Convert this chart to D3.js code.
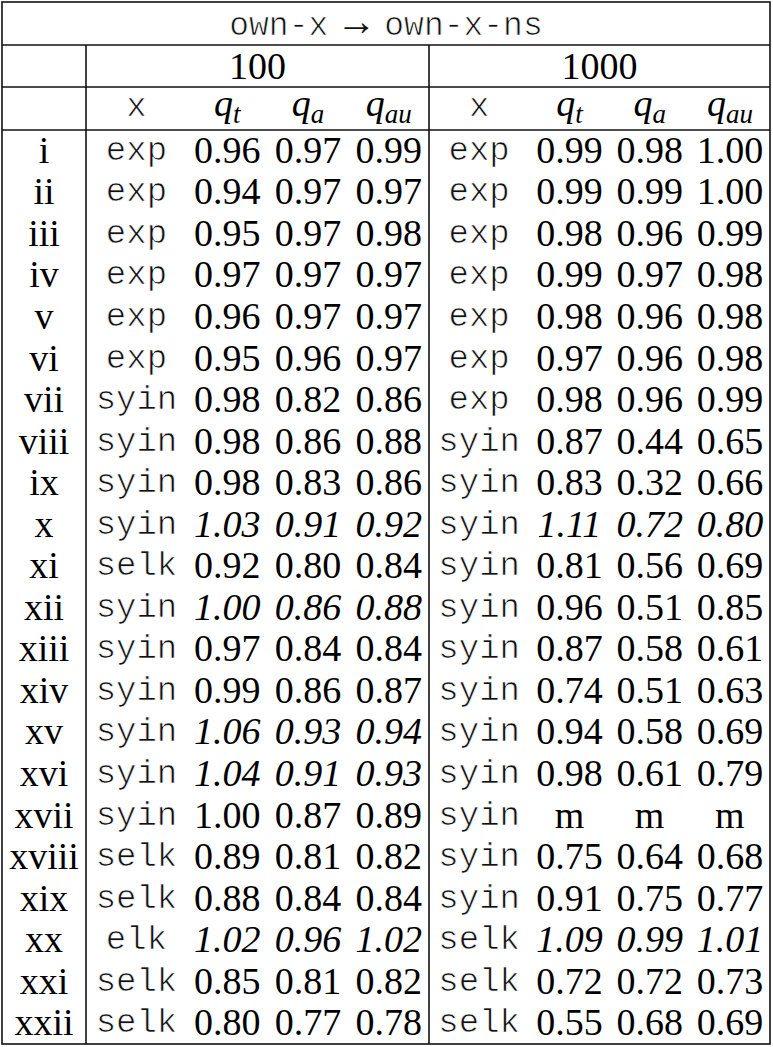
<!DOCTYPE html>
<html>
<head>
<meta charset="utf-8">
<script src="https://cdn.jsdelivr.net/npm/d3@7"></script>
<style>
  body { margin: 0; background: #fff; }
</style>
</head>
<body>
<div id="tabela"></div>
<script>
const rowLabels = ["i","ii","iii","iv","v","vi","vii","viii","ix","x","xi","xii","xiii","xiv","xv","xvi","xvii","xviii","xix","xx","xxi","xxii"];
const groups = ["100", "1000"];
const subCols = ["x", "qt", "qa", "qau"];

const x100 = ["exp","exp","exp","exp","exp","exp","syin","syin","syin","syin","selk","syin","syin","syin","syin","syin","syin","selk","selk","elk","selk","selk"];
const qt100 = [0.96,0.94,0.95,0.97,0.96,0.95,0.98,0.98,0.98,1.03,0.92,1.00,0.97,0.99,1.06,1.04,1.00,0.89,0.88,1.02,0.85,0.80];
const qa100 = [0.97,0.97,0.97,0.97,0.97,0.96,0.82,0.86,0.83,0.91,0.80,0.86,0.84,0.86,0.93,0.91,0.87,0.81,0.84,0.96,0.81,0.77];
const qau100 = [0.99,0.97,0.98,0.97,0.97,0.97,0.86,0.88,0.86,0.92,0.84,0.88,0.84,0.87,0.94,0.93,0.89,0.82,0.84,1.02,0.82,0.78];
const italic100 = ["x","xii","xv","xvi","xx"];

const x1000 = ["exp","exp","exp","exp","exp","exp","exp","syin","syin","syin","syin","syin","syin","syin","syin","syin","syin","syin","syin","selk","selk","selk"];
const qt1000 = [0.99,0.99,0.98,0.99,0.98,0.97,0.98,0.87,0.83,1.11,0.81,0.96,0.87,0.74,0.94,0.98,null,0.75,0.91,1.09,0.72,0.55];
const qa1000 = [0.98,0.99,0.96,0.97,0.96,0.96,0.96,0.44,0.32,0.72,0.56,0.51,0.58,0.51,0.58,0.61,null,0.64,0.75,0.99,0.72,0.68];
const qau1000 = [1.00,1.00,0.99,0.98,0.98,0.98,0.99,0.65,0.66,0.80,0.69,0.85,0.61,0.63,0.69,0.79,null,0.68,0.77,1.01,0.73,0.69];
const italic1000 = ["x","xx"];

const W = 773, H = 1047;
const serif = "'Liberation Serif', 'Times New Roman', serif";
const mono = "'Liberation Mono', 'Courier New', monospace";
const fsNum = 38, fsMono = 34;

const tLeft = 2, tRight = 770, tTop = 2, tBottom = 1044;
const labelColRight = 86, midSplit = 429;
const titleBottom = 45, groupBottom = 87, headBottom = 130;

const svg = d3.select("#tabela").append("svg")
    .attr("width", W)
    .attr("height", H);

// linhas de dados
const y = d3.scaleBand()
    .domain(rowLabels)
    .range([headBottom, tBottom]);

// blocos 100 / 1000
const xGroup = d3.scaleOrdinal()
    .domain(groups)
    .range([[labelColRight, midSplit], [midSplit, tRight]]);

// largura relativa das sub-colunas dentro de cada bloco
const colWeights = [1.25, 1, 1, 1];
function colCenter(g, c) {
    const [a, b] = xGroup(g);
    const s = d3.scaleLinear().domain([0, d3.sum(colWeights)]).range([a, b]);
    const i = subCols.indexOf(c);
    const start = d3.sum(colWeights.slice(0, i));
    return s(start + colWeights[i] / 2);
}

const blocks = [
    { g: "100", x: x100, qt: qt100, qa: qa100, qau: qau100, it: italic100 },
    { g: "1000", x: x1000, qt: qt1000, qa: qa1000, qau: qau1000, it: italic1000 }
];

// texto monoespaçado mais leve (aproxima o Courier)
function thinMono(sel) {
    sel.style("font-family", mono)
        .style("fill", "#111")
        .style("stroke", "#fff")
        .style("stroke-width", 0.7)
        .style("paint-order", "fill");
}

// linhas da grelha
const lines = svg.append("g")
    .style("stroke", "#111")
    .style("stroke-width", 1.6)
    .style("fill", "none");

lines.append("rect")
    .attr("x", tLeft).attr("y", tTop)
    .attr("width", tRight - tLeft).attr("height", tBottom - tTop);

[titleBottom, groupBottom, headBottom].forEach(yy => {
    lines.append("line").attr("x1", tLeft).attr("x2", tRight).attr("y1", yy).attr("y2", yy);
});
lines.append("line").attr("x1", labelColRight).attr("x2", labelColRight).attr("y1", titleBottom).attr("y2", tBottom);
lines.append("line").attr("x1", midSplit).attr("x2", midSplit).attr("y1", titleBottom).attr("y2", tBottom);

// titulo
const title = svg.append("text")
    .attr("x", (tLeft + tRight) / 2)
    .attr("y", (tTop + titleBottom) / 2 + 11)
    .attr("text-anchor", "middle")
    .style("font-size", "33px")
    .call(thinMono);
title.append("tspan").text("own-x");
title.append("tspan").style("font-family", serif).style("font-size", "40px")
    .style("stroke", "none").text("\u2009\u2192\u2009");
title.append("tspan").text("own-x-ns");

// cabecalho dos blocos
svg.append("g").selectAll("text")
    .data(groups)
    .enter()
    .append("text")
    .attr("x", g => d3.mean(xGroup(g)))
    .attr("y", (titleBottom + groupBottom) / 2 + 13)
    .attr("text-anchor", "middle")
    .style("font-family", serif)
    .style("font-size", fsNum + "px")
    .text(g => g);

// sub-cabecalhos
const subs = { qt: "t", qa: "a", qau: "au" };
groups.forEach(g => {
    subCols.forEach(c => {
        const t = svg.append("text")
            .attr("x", colCenter(g, c))
            .attr("y", (groupBottom + headBottom) / 2 + 7)
            .attr("text-anchor", "middle");
        if (c === "x") {
            t.style("font-size", fsMono + "px").call(thinMono).text("x");
        } else {
            t.style("font-family", serif).style("font-style", "italic").style("font-size", fsNum + "px");
            t.append("tspan").text("q");
            t.append("tspan").attr("dy", 7).style("font-size", "27px").text(subs[c]);
        }
    });
});

// rotulos das linhas
svg.append("g").selectAll("text")
    .data(rowLabels)
    .enter()
    .append("text")
    .attr("x", (tLeft + labelColRight) / 2)
    .attr("y", r => y(r) + y.bandwidth() / 2 + 12)
    .attr("text-anchor", "middle")
    .style("font-family", serif)
    .style("font-size", fsNum + "px")
    .text(r => r);

// celulas
const fmt = v => v === null ? "m" : v.toFixed(2);
blocks.forEach(b => {
    const gB = svg.append("g");
    gB.selectAll("text.xc")
        .data(rowLabels)
        .enter()
        .append("text")
        .attr("class", "xc")
        .attr("x", colCenter(b.g, "x"))
        .attr("y", (r, i) => y(r) + y.bandwidth() / 2 + 9)
        .attr("text-anchor", "middle")
        .style("font-size", fsMono + "px")
        .call(thinMono)
        .text((r, i) => b.x[i]);

    ["qt", "qa", "qau"].forEach(c => {
        gB.selectAll("text." + c)
            .data(rowLabels)
            .enter()
            .append("text")
            .attr("class", c)
            .attr("x", colCenter(b.g, c))
            .attr("y", r => y(r) + y.bandwidth() / 2 + 12)
            .attr("text-anchor", "middle")
            .style("font-family", serif)
            .style("font-size", fsNum + "px")
            .style("font-style", r => b.it.includes(r) && b[c][rowLabels.indexOf(r)] !== null ? "italic" : "normal")
            .text((r, i) => fmt(b[c][i]));
    });
});
</script>
</body>
</html>
